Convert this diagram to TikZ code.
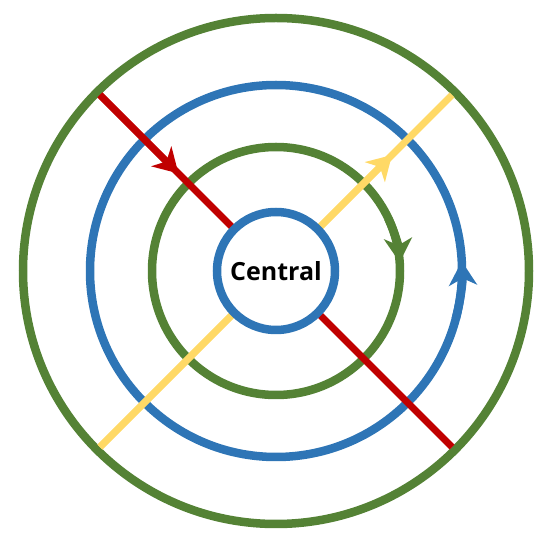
\documentclass[tikz,border=0pt]{standalone}
\usepackage{fontspec}
\setmainfont{Open Sans}
\usetikzlibrary{arrows.meta,calc}
\definecolor{ggreen}{RGB}{84,130,53}
\definecolor{bblue}{RGB}{46,117,182}
\definecolor{rred}{RGB}{192,0,0}
\definecolor{yyellow}{RGB}{255,217,102}
\tikzset{
  ring/.style={circle, draw=#1, line width=8.5pt, inner sep=0pt, outer sep=0pt},
  ray/.style={draw=#1, line width=7pt},
  tip/.style={-{Stealth[length=24pt,width=28pt,inset=7pt]}, draw=#1, fill=#1, line width=7pt}
}
\begin{document}
\begin{tikzpicture}[x=1pt,y=1pt]
\useasboundingbox (0,0) rectangle (550,547);
\coordinate (c) at (276,276);
\node[ring=ggreen, minimum size=506pt] (outer) at (c) {};
\node[ring=bblue, minimum size=372pt] (mid) at (c) {};
\node[ring=ggreen, minimum size=248pt] (inner) at (c) {};
% rays
\coordinate (r1) at ($(c)+(135:249)$);
\coordinate (r2) at ($(c)+(-45:249)$);
\coordinate (y1) at ($(c)+(225:249)$);
\coordinate (y2) at ($(c)+(45:249)$);
\coordinate (ra) at ($(c)+(135:138)$);
\coordinate (ya) at ($(c)+(45:164)$);
\draw[ray=rred] (r1) -- (r2);
\draw[ray=yyellow] (y1) -- (y2);
\draw[tip=rred] (r1) -- (ra);
\draw[tip=yyellow] (y1) -- (ya);
% ring arrows
\draw[tip=ggreen, line width=8.5pt] ($(c)+(25:124)$) arc[start angle=25, end angle=4, radius=124];
\draw[tip=bblue, line width=8.5pt] ($(c)+(-15:186)$) arc[start angle=-15, end angle=3, radius=186];
% central
\node[ring=bblue, fill=white, minimum size=118pt, font=\bfseries\fontsize{25}{30}\selectfont] (central) at (c) {Central};
\end{tikzpicture}
\end{document}
